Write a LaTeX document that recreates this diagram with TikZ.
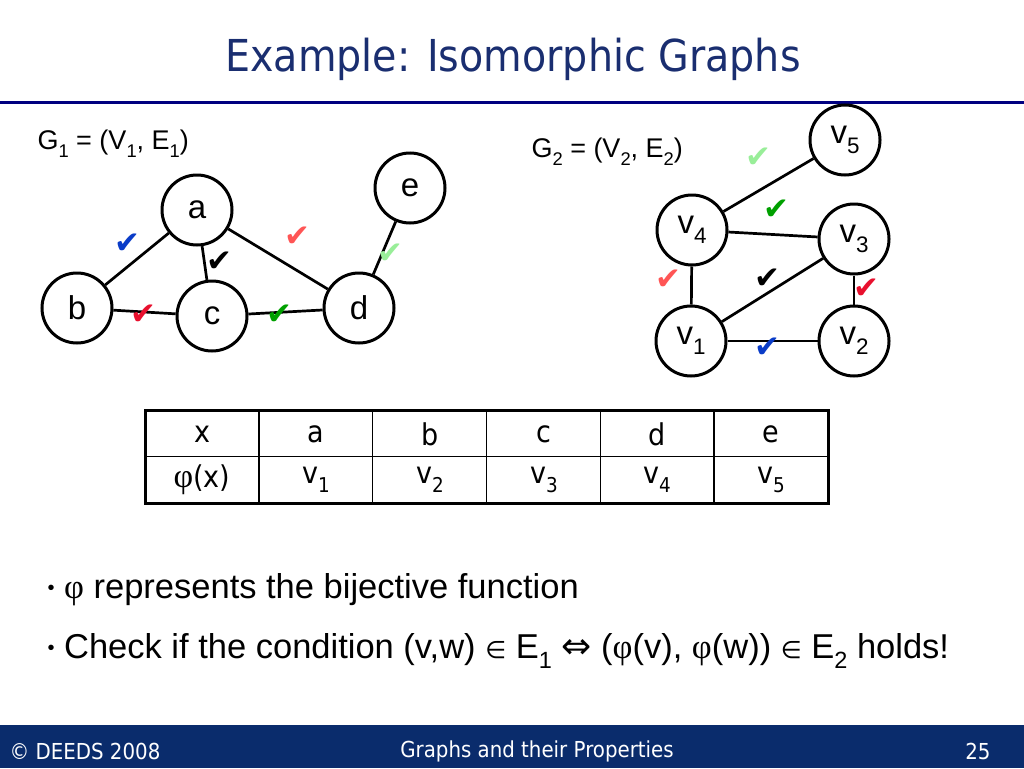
\documentclass[tikz,border=0pt]{standalone}
\usepackage{fontspec}
\usetikzlibrary{positioning}
\setmainfont{Liberation Sans}
\newfontfamily\tahoma[FakeStretch=0.9]{DejaVu Sans}
\newfontfamily\symfont{DejaVu Sans}
\newfontfamily\grk{Liberation Serif}
\newcommand{\lo}[1]{\raisebox{-0.3em}{\fontsize{0.68em}{0.7em}\selectfont #1}}
\definecolor{titleblue}{HTML}{1A2E70}
\definecolor{rulenavy}{HTML}{000080}
\definecolor{footblue}{HTML}{0A2C6C}
\definecolor{ckblue}{HTML}{0A3CC8}
\definecolor{ckred}{HTML}{E8102E}
\definecolor{cksalmon}{HTML}{FF5555}
\definecolor{ckgreen}{HTML}{00A000}
\definecolor{cklight}{HTML}{99EE99}

\begin{document}
\begin{tikzpicture}[x=1pt, y=-1pt,
  vtx/.style={circle, draw, line width=3pt, minimum size=70pt, inner sep=0pt,
    font=\fontsize{33}{36}\selectfont},
  edge/.style={line width=2.7pt},
  chk/.style={font=\symfont\fontsize{31}{33}\selectfont, inner sep=0pt},
  cell/.style={font=\tahoma\fontsize{30}{32}\selectfont}]
  \useasboundingbox (0,0) rectangle (1024,768);
  % title and rule
  \node[text=titleblue, font=\tahoma\fontsize{44}{48}\selectfont] (title) at (513,59) {Example: Isomorphic Graphs};
  \draw[rulenavy, line width=3pt] (0,102) -- (1024,102);

  % graph G1
  \node[anchor=west, font=\fontsize{27}{30}\selectfont] (g1) at (34,144) {G\lo{1} = (V\lo{1}, E\lo{1})};
  \node[vtx] (a) at (197,210) {a};
  \node[vtx] (b) at (77,308) {b};
  \node[vtx] (c) at (212,316) {c};
  \node[vtx] (d) at (359,308) {d};
  \node[vtx] (e) at (410,188) {e};
  \draw[edge] (a) -- (b);
  \draw[edge] (a) -- (c);
  \draw[edge] (a) -- (d);
  \draw[edge] (b) -- (c);
  \draw[edge] (c) -- (d);
  \draw[edge] (d) -- (e);
  \node[chk, text=ckblue] (ab) at (127,244) {✔};
  \node[chk] (ac) at (219,262) {✔};
  \node[chk, text=cksalmon] (ad) at (297,237) {✔};
  \node[chk, text=ckred] (bc) at (143,315) {✔};
  \node[chk, text=ckgreen] (cd) at (279,315) {✔};
  \node[chk, text=cklight] (de) at (390,254) {✔};

  % graph G2
  \node[anchor=west, font=\fontsize{27}{30}\selectfont] (g2) at (528,152) {G\lo{2} = (V\lo{2}, E\lo{2})};
  \node[vtx] (v5) at (845,140) {v\lo{5}};
  \node[vtx] (v4) at (692,230) {v\lo{4}};
  \node[vtx] (v3) at (854,239) {v\lo{3}};
  \node[vtx] (v1) at (691,341) {v\lo{1}};
  \node[vtx] (v2) at (854,341) {v\lo{2}};
  \draw[edge] (v4) -- (v5);
  \draw[edge] (v4) -- (v3);
  \draw[edge] (v4) -- (v1);
  \draw[edge] (v3) -- (v2);
  \draw[edge] (v3) -- (v1);
  \draw[edge] (v1) -- (v2);
  \node[chk, text=cklight] (v45) at (758,158) {✔};
  \node[chk, text=ckgreen] (v43) at (776,210) {✔};
  \node[chk, text=cksalmon] (v41) at (668,280) {✔};
  \node[chk] (v31) at (767,279) {✔};
  \node[chk, text=ckred] (v32) at (866,289) {✔};
  \node[chk, text=ckblue] (v12) at (767,348) {✔};

  % mapping table
  \draw[line width=1.5pt] (145,456.5) -- (828,456.5);
  \foreach \i in {1,...,5}
    \draw[line width=1.5pt] (145+113.83*\i,410) -- (145+113.83*\i,503);
  \draw[line width=3pt] (145,410) rectangle (828,503);
  \node[cell] (hx) at (202,434) {x};
  \node[cell] (ha) at (316,434) {a};
  \node[cell] (hb) at (430,434) {b};
  \node[cell] (hc) at (544,434) {c};
  \node[cell] (hd) at (657,434) {d};
  \node[cell] (he) at (771,434) {e};
  \node[cell] (fx) at (202,480) {{\grk\fontsize{34}{34}\selectfont φ}(x)};
  \node[cell] (fa) at (316,480) {v\lo{1}};
  \node[cell] (fb) at (430,480) {v\lo{2}};
  \node[cell] (fc) at (544,480) {v\lo{3}};
  \node[cell] (fd) at (657,480) {v\lo{4}};
  \node[cell] (fe) at (771,480) {v\lo{5}};

  % bullets
  \node[anchor=west, font=\fontsize{34.5}{36}\selectfont] (b1) at (44,590)
    {\raisebox{0.12em}{\fontsize{20}{20}\selectfont\textbullet}\ {\grk φ} represents the bijective function};
  \node[anchor=west, font=\fontsize{34.5}{36}\selectfont] (b2) at (44,651)
    {\raisebox{0.12em}{\fontsize{20}{20}\selectfont\textbullet}\ Check if the condition (v,w) {\symfont\fontsize{24}{24}\selectfont ∈} E\lo{1}\ {\symfont\fontsize{36}{36}\selectfont ⇔}\ ({\grk φ}(v), {\grk φ}(w)) {\symfont\fontsize{24}{24}\selectfont ∈} E\lo{2} holds!};

  % footer
  \fill[footblue] (0,725) rectangle (1024,768);
  \node[anchor=west, text=white, font=\tahoma\fontsize{22}{24}\selectfont] (ft1) at (6,751) {© DEEDS 2008};
  \node[text=white, font=\tahoma\fontsize{22}{24}\selectfont] (ft2) at (537,751) {Graphs and their Properties};
  \node[anchor=east, text=white, font=\tahoma\fontsize{22}{24}\selectfont] (ft3) at (994,751) {25};
\end{tikzpicture}
\end{document}
